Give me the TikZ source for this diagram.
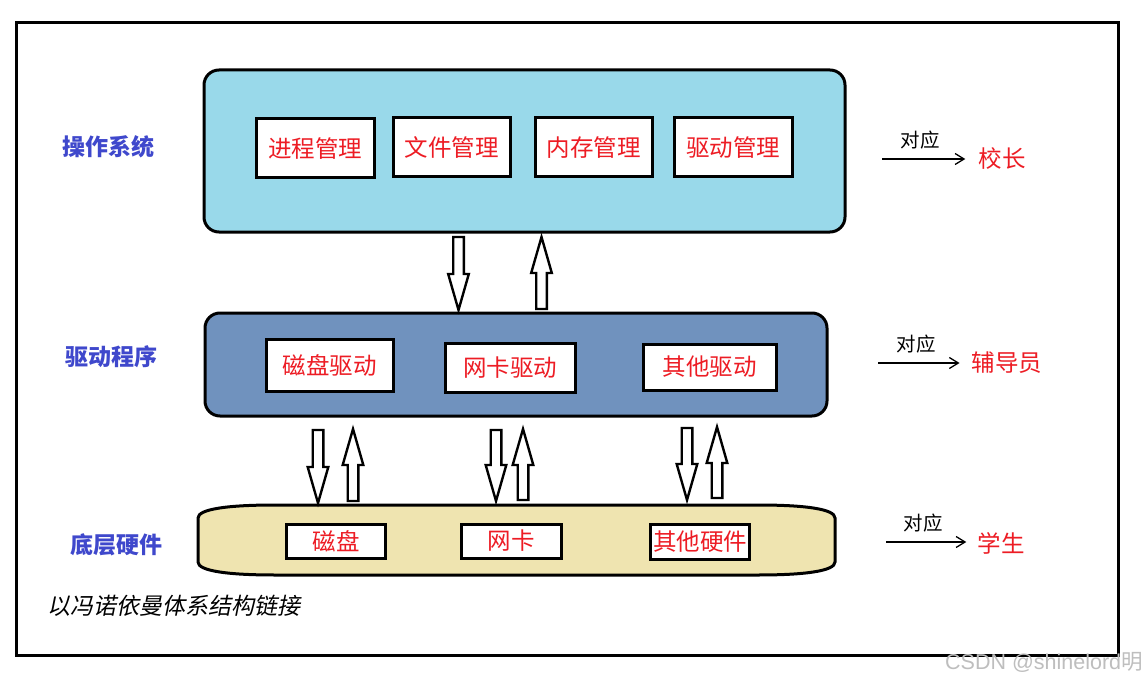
\documentclass[tikz,border=0pt]{standalone}
\usepackage{fontspec}
\setmainfont{Noto Sans CJK SC}
\newfontfamily\cjkslant[FakeSlant=0.2]{Noto Sans CJK SC}
\newfontfamily\markfont{Liberation Sans}
\usetikzlibrary{arrows.meta,calc}

\definecolor{osfill}{RGB}{153,217,234}
\definecolor{drvfill}{RGB}{112,146,190}
\definecolor{hwfill}{RGB}{239,228,176}
\definecolor{redtext}{RGB}{237,28,36}
\definecolor{layerlabel}{RGB}{63,72,204}
\definecolor{markgray}{RGB}{190,190,190}

\tikzset{
  layerbox/.style={draw, line width=3pt, rounded corners=15pt, inner sep=0pt, outer sep=0pt},
  unitbox/.style={draw, line width=3pt, fill=white, inner sep=0pt, outer sep=0pt,
    text=redtext, font=\fontsize{23.5}{23.5}\selectfont},
  layername/.style={text=layerlabel, font=\fontsize{23}{23}\selectfont\bfseries, inner sep=0pt},
  rolename/.style={text=redtext, font=\fontsize{23.5}{23.5}\selectfont, inner sep=0pt},
  corrlabel/.style={font=\fontsize{19.5}{20}\selectfont, inner sep=0pt},
  corrarrow/.style={line width=1.3pt, -{Straight Barb[length=9pt,width=11pt]}},
  blockarrow/.style={draw, fill=white, line width=2.4pt, line join=miter}
}

% hollow block arrow from one named point to another (vertical)
\newcommand\hollowarrow[2]{%
  \draw[blockarrow] let \p1=(#1), \p2=(#2), \n1={ifthenelse(\y2>\y1,1,-1)} in
    (\x1-5.3pt,\y1) -- (\x1+5.3pt,\y1) -- (\x1+5.3pt,\y2-\n1*36pt)
    -- (\x1+10.3pt,\y2-\n1*36pt) -- (\x2,\y2) -- (\x1-10.3pt,\y2-\n1*36pt)
    -- (\x1-5.3pt,\y2-\n1*36pt) -- cycle;}

\begin{document}
\begin{tikzpicture}[x=1pt,y=-1pt]
\useasboundingbox (0,0) rectangle (1141,682);
\fill[white] (0,0) rectangle (1141,682);

% outer frame
\node[draw, line width=3pt, minimum width=1102pt, minimum height=632pt, inner sep=0pt] (frame) at (567,339) {};

% operating system layer
\node[layerbox, fill=osfill, minimum width=641pt, minimum height=162pt] (os) at (524.5,151) {};
\node[unitbox, minimum width=118pt, minimum height=59pt] (proc) at (315,148.5) {进程管理};
\node[unitbox, minimum width=117pt, minimum height=59pt] (file) at (451.5,147.5) {文件管理};
\node[unitbox, minimum width=117pt, minimum height=59pt] (mem)  at (593.5,147.5) {内存管理};
\node[unitbox, minimum width=118pt, minimum height=59pt] (drvm) at (733,147.5) {驱动管理};

% driver layer
\node[layerbox, fill=drvfill, minimum width=622pt, minimum height=103pt] (drv) at (516,364.5) {};
\node[unitbox, minimum width=127pt, minimum height=52pt] (diskd) at (329.5,365) {磁盘驱动};
\node[unitbox, minimum width=130pt, minimum height=49pt] (nicd)  at (510,367.5) {网卡驱动};
\node[unitbox, minimum width=133pt, minimum height=46pt] (othd)  at (709.5,367) {其他驱动};

% hardware layer
\node[minimum width=637pt, minimum height=70pt, inner sep=0pt] (hw) at (516.5,540) {};
\draw[line width=3pt, fill=hwfill]
  (275,505) -- (758,505) .. controls (805,505) and (835,509) .. (835,518)
  -- (835,562) .. controls (835,571) and (805,575) .. (758,575)
  -- (275,575) .. controls (228,575) and (198,571) .. (198,562)
  -- (198,518) .. controls (198,509) and (228,505) .. (275,505) -- cycle;
\node[unitbox, minimum width=99pt, minimum height=34pt]  (disk) at (336,541) {磁盘};
\node[unitbox, minimum width=100pt, minimum height=34pt] (nic)  at (511,541) {网卡};
\node[unitbox, minimum width=99pt, minimum height=35pt]  (oth)  at (700,542) {其他硬件};

% layer names
\node[layername] (osname)  at (108,147) {操作系统};
\node[layername] (drvname) at (111,357) {驱动程序};
\node[layername] (hwname)  at (116,545) {底层硬件};

% block arrows between layers
\coordinate (a1s) at (458.5,237); \coordinate (a1e) at (458.5,310);
\coordinate (a2s) at (541.5,309); \coordinate (a2e) at (541.5,237);
\coordinate (b1s) at (318,430);   \coordinate (b1e) at (318,503);
\coordinate (b2s) at (353,501);   \coordinate (b2e) at (353,429);
\coordinate (c1s) at (496,430);   \coordinate (c1e) at (496,501);
\coordinate (c2s) at (523,500);   \coordinate (c2e) at (523,429);
\coordinate (d1s) at (687,428);   \coordinate (d1e) at (687,500);
\coordinate (d2s) at (717,498);   \coordinate (d2e) at (717,427);
\hollowarrow{a1s}{a1e}
\hollowarrow{a2s}{a2e}
\hollowarrow{b1s}{b1e}
\hollowarrow{b2s}{b2e}
\hollowarrow{c1s}{c1e}
\hollowarrow{c2s}{c2e}
\hollowarrow{d1s}{d1e}
\hollowarrow{d2s}{d2e}

% correspondences
\node[rolename] (head)    at (1002,159) {校长};
\node[rolename] (tutor)   at (1007,363) {辅导员};
\node[rolename] (student) at (1001,543) {学生};
\coordinate (r1) at (882,159);
\coordinate (r2) at (878,363);
\coordinate (r3) at (886,542);
\draw[corrarrow, shorten >=13pt] (r1) -- (head.west);
\draw[corrarrow, shorten >=12pt] (r2) -- (tutor.west);
\draw[corrarrow, shorten >=11pt] (r3) -- (student.west |- r3);
\node[corrlabel] (k1) at (920,140) {对应};
\node[corrlabel] (k2) at (916,344) {对应};
\node[corrlabel] (k3) at (923,523) {对应};

% caption
\node[inner sep=0pt, font=\cjkslant\fontsize{23}{23}\selectfont] (cap) at (174,606) {以冯诺依曼体系结构链接};

% watermark
\node[inner sep=0pt, anchor=west, text=markgray, font=\markfont\fontsize{21.5}{22}\selectfont] (mark) at (945,662) {CSDN @shinelord{\rmfamily 明}};
\end{tikzpicture}
\end{document}
